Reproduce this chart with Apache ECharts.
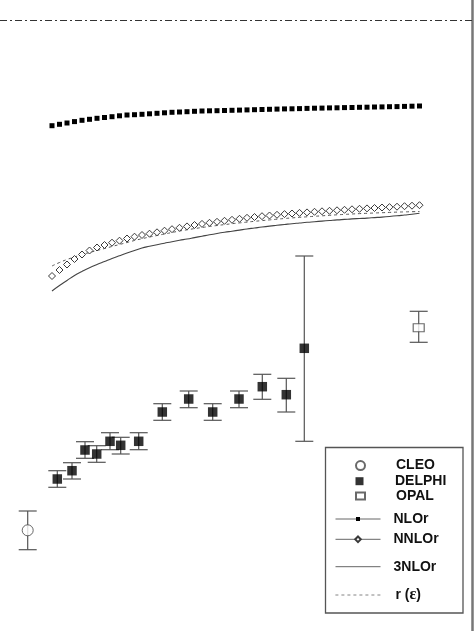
<!DOCTYPE html>
<html>
<head>
<meta charset="utf-8">
<script src="https://cdn.jsdelivr.net/npm/echarts@6/dist/echarts.min.js"></script>
<style>
  html, body { margin: 0; padding: 0; background: #fff; }
  #chart { width: 474px; height: 631px; }
</style>
</head>
<body>
<div id="chart"></div>
<script>
// x positions of the theory curves (same grid for all four)
const curveX = [52, 59.5, 67, 74.5, 82, 89.5, 97, 104.5, 112, 119.5,
  127, 134.5, 142, 149.5, 157, 164.5, 172, 179.5, 187, 194.5,
  202, 209.5, 217, 224.5, 232, 239.5, 247, 254.5, 262, 269.5,
  277, 284.5, 292, 299.5, 307, 314.5, 322, 329.5, 337, 344.5,
  352, 359.5, 367, 374.5, 382, 389.5, 397, 404.5, 412, 419.5];

// y axis is drawn inverted (0 at top)
const nloY = [125.7, 124.3, 123, 121.6, 120.3, 119.3, 118.3, 117.5, 116.7, 115.8,
  115, 114.7, 114.3, 113.8, 113.3, 112.8, 112.3, 112, 111.7, 111.3,
  111, 110.8, 110.7, 110.5, 110.3, 110.1, 109.9, 109.7, 109.5, 109.3,
  109.1, 108.9, 108.8, 108.6, 108.4, 108.2, 108.1, 107.9, 107.8, 107.6,
  107.5, 107.3, 107.2, 107, 106.9, 106.7, 106.6, 106.4, 106.2, 106];

const nnloY = [276, 270, 264.5, 259, 254.5, 250.5, 247.5, 245, 242.7, 240.7,
  238.5, 236.7, 235, 233.7, 232.3, 230.7, 229.2, 227.8, 226.4, 225,
  223.9, 222.8, 221.8, 220.8, 219.8, 218.8, 217.8, 217, 216.2, 215.5,
  214.8, 214.1, 213.5, 212.9, 212.4, 211.8, 211.3, 210.8, 210.3, 209.8,
  209.3, 208.8, 208.4, 208, 207.5, 207.1, 206.7, 206.2, 205.7, 205.2];

const n3loY = [291, 285.5, 280.5, 275.5, 271.5, 267.8, 264.5, 261.5, 258.5, 255.7,
  253, 250.5, 248, 246.3, 244.7, 243.2, 241.7, 240.3, 239, 237.6,
  236.2, 234.8, 233.5, 232.3, 231.2, 230.1, 229, 228, 227, 226.1,
  225.3, 224.5, 223.7, 223, 222.3, 221.7, 221.1, 220.5, 219.9, 219.4,
  218.9, 218.5, 218.1, 217.6, 217.1, 216.5, 215.8, 215, 214.2, 213.3];

const rEpsY = [266, 262.5, 259.5, 257, 254.5, 252.5, 250.5, 248.5, 246.5, 244.5,
  242.5, 240.5, 238.7, 237, 235.5, 234, 232.5, 231, 229.8, 228.6,
  227.5, 226.5, 225.5, 224.6, 223.7, 222.9, 222.1, 221.3, 220.6, 219.9,
  219.2, 218.5, 217.9, 217.3, 216.8, 216.3, 215.8, 215.3, 214.8, 214.4,
  214, 213.6, 213.3, 213, 212.7, 212.4, 212.1, 211.9, 211.7, 211.5];

// measurements: value, upper and lower edge of the error bar
const cleoX = [27.7];
const cleoY = [530.3];
const cleoTop = [511];
const cleoBottom = [549.7];

const delphiX = [57.3, 72, 85, 96.7, 110, 120.7, 138.7, 162.3, 188.7, 212.7, 239, 262.3, 286.3, 304.3];
const delphiY = [479, 470.7, 450, 454, 441.3, 445.3, 441.3, 412, 399, 412, 399, 386.7, 394.7, 348.3];
const delphiTop = [470.7, 462.7, 441.7, 445.7, 432.7, 437.3, 432.7, 403.7, 391, 403.7, 391, 374.3, 378.3, 256];
const delphiBottom = [487.3, 479, 458.3, 462.3, 449.7, 454, 449.7, 420.3, 407.7, 420.3, 407.7, 399.3, 412, 441.3];

const opalX = [418.7];
const opalY = [327.7];
const opalTop = [311.3];
const opalBottom = [342.3];

// asymptotic level (dash-dot line at the top)
const limitLevel = [20];

const zip = (xs, ys) => xs.map((x, i) => [x, ys[i]]);
const bars = (xs, ys, tops, bots) => xs.map((x, i) => [x, ys[i], tops[i], bots[i]]);

const errData = [].concat(
  bars(cleoX, cleoY, cleoTop, cleoBottom),
  bars(delphiX, delphiY, delphiTop, delphiBottom),
  bars(opalX, opalY, opalTop, opalBottom)
);

const GREY = '#555';
const FONT = 'Liberation Sans, Arial, sans-serif';

const chart = echarts.init(document.getElementById('chart'));

function textStyle(padLeft) {
  return {
    fontFamily: FONT,
    fontWeight: 'bold',
    fontSize: 14,
    color: '#111',
    padding: [0, 0, 0, padLeft],
    rich: {
      a: { fontFamily: FONT, fontWeight: 'bold', fontSize: 14, color: '#111' },
      e: { fontFamily: 'Liberation Serif, serif', fontSize: 16, color: '#111' }
    }
  };
}

// one legend component per row so each row can sit where the original puts it
function legendItem(name, left, top, itemWidth, itemHeight, padLeft, extra) {
  return Object.assign({
    data: [name],
    left: left,
    top: top,
    padding: 0,
    itemWidth: itemWidth,
    itemHeight: itemHeight,
    selectedMode: false,
    textStyle: textStyle(padLeft)
  }, extra || {});
}

const hidden = { color: 'rgba(0,0,0,0)', borderColor: 'rgba(0,0,0,0)', borderWidth: 0 };
const legendLine = { opacity: 1, color: '#666', width: 1, type: 'solid' };

const option = {
  animation: false,
  backgroundColor: '#fff',
  grid: { left: 0, right: 1.5, top: 0, bottom: 0 },
  xAxis: {
    type: 'value', min: 0, max: 472.5,
    axisLine: { show: false }, axisTick: { show: false },
    axisLabel: { show: false }, splitLine: { show: false }
  },
  yAxis: {
    type: 'value', min: 0, max: 631, inverse: true, position: 'right',
    axisLine: { show: true, onZero: false, lineStyle: { color: '#777', width: 2.5 } },
    axisTick: { show: false }, axisLabel: { show: false }, splitLine: { show: false }
  },
  legend: [
    legendItem('CLEO', 355, 458.6, 9, 9, 26),
    legendItem('DELPHI', 355.5, 474.2, 8, 8, 26.5),
    legendItem('OPAL', 355, 489, 9, 7, 26),
    legendItem('NLOr', 335, 512, 45, 5, 8, { lineStyle: legendLine }),
    legendItem('NNLOr', 335, 532.3, 45, 7, 8, { lineStyle: legendLine }),
    legendItem('3NLOr', 335, 559.7, 45, 4, 8, {
      itemStyle: hidden,
      lineStyle: { color: '#666', width: 1 }
    }),
    legendItem('r (ε)', 335, 587, 45, 4, 10, {
      itemStyle: hidden,
      lineStyle: { color: '#666', width: 0.8 },
      formatter: () => '{a|r (}{e|ε}{a|)}'
    })
  ],
  graphic: [{
    type: 'rect',
    shape: { x: 325.5, y: 447.5, width: 137.5, height: 165.5 },
    style: { fill: 'none', stroke: GREY, lineWidth: 1.3 },
    z: 0
  }],
  series: [
    {
      type: 'custom',
      name: 'errors',
      z: 1,
      data: errData,
      renderItem: (params, api) => {
        const x = api.value(0);
        const top = api.coord([x, api.value(2)]);
        const bot = api.coord([x, api.value(3)]);
        const w = 9;
        const st = { stroke: GREY, lineWidth: 1.2 };
        return {
          type: 'group',
          children: [
            { type: 'line', shape: { x1: top[0], y1: top[1], x2: bot[0], y2: bot[1] }, style: st },
            { type: 'line', shape: { x1: top[0] - w, y1: top[1], x2: top[0] + w, y2: top[1] }, style: st },
            { type: 'line', shape: { x1: bot[0] - w, y1: bot[1], x2: bot[0] + w, y2: bot[1] }, style: st }
          ]
        };
      }
    },
    {
      name: 'CLEO', type: 'scatter', z: 3,
      symbol: 'circle', symbolSize: 11,
      itemStyle: { color: '#fff', borderColor: '#444', borderWidth: 1 },
      data: zip(cleoX, cleoY)
    },
    {
      name: 'DELPHI', type: 'scatter', z: 3,
      symbol: 'rect', symbolSize: 9.5,
      itemStyle: { color: '#000' },
      data: zip(delphiX, delphiY)
    },
    {
      name: 'OPAL', type: 'scatter', z: 3,
      symbol: 'rect', symbolSize: [11, 8],
      itemStyle: { color: '#fff', borderColor: '#444', borderWidth: 1 },
      data: zip(opalX, opalY)
    },
    {
      name: 'NLOr', type: 'line', z: 3,
      symbol: 'rect', symbolSize: 5, showAllSymbol: true,
      itemStyle: { color: '#000' },
      lineStyle: { opacity: 0 },
      data: zip(curveX, nloY),
      markLine: {
        silent: true,
        symbol: 'none',
        label: { show: false },
        lineStyle: { color: '#333', width: 1, type: [7, 3, 2, 3] },
        data: limitLevel.map(v => ({ yAxis: v }))
      }
    },
    {
      name: 'NNLOr', type: 'line', z: 4,
      symbol: 'diamond', symbolSize: 7, showAllSymbol: true,
      itemStyle: { color: '#fff', borderColor: '#3a3a3a', borderWidth: 1 },
      lineStyle: { opacity: 0 },
      data: zip(curveX, nnloY)
    },
    {
      name: '3NLOr', type: 'line', z: 2,
      symbol: 'none', smooth: true,
      itemStyle: { color: GREY },
      lineStyle: { color: '#444', width: 1.1 },
      data: zip(curveX, n3loY)
    },
    {
      name: 'r (ε)', type: 'line', z: 2,
      symbol: 'none', smooth: true,
      itemStyle: { color: GREY },
      lineStyle: { color: GREY, width: 1, type: [3, 3] },
      data: zip(curveX, rEpsY)
    }
  ]
};

chart.setOption(option);
</script>
</body>
</html>
